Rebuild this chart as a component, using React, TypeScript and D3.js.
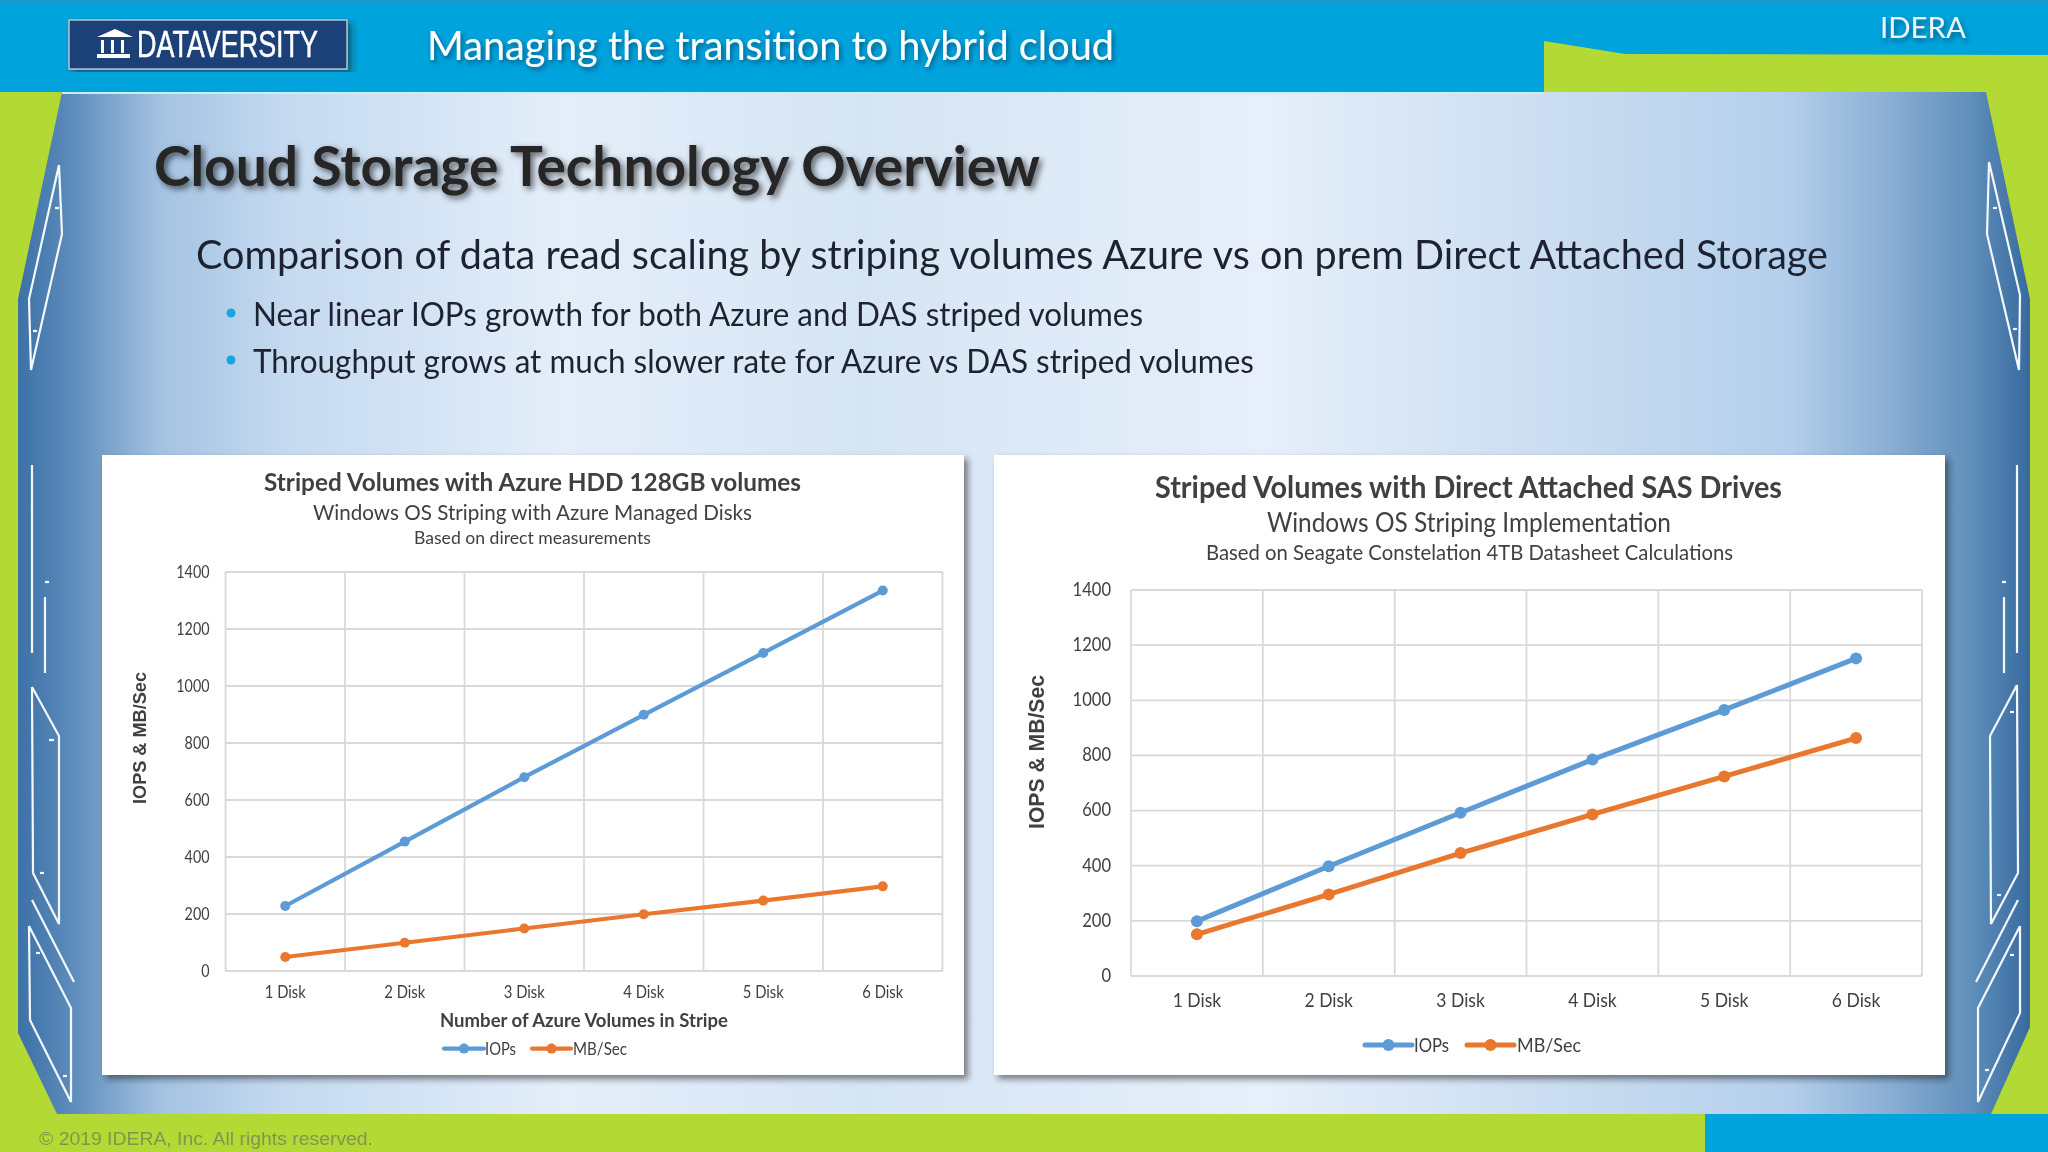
import * as d3 from "d3";

const disks = ["1 Disk", "2 Disk", "3 Disk", "4 Disk", "5 Disk", "6 Disk"];
const yTicks = [0, 200, 400, 600, 800, 1000, 1200, 1400];
const azureIops = [228, 454, 680, 899, 1116, 1335];
const azureMbSec = [49, 99, 149, 199, 247, 297];
const dasIops = [199, 398, 592, 785, 965, 1152];
const dasMbSec = [151, 296, 446, 586, 724, 863];

const BLUE = "#5b9bd5";
const ORANGE = "#e9772d";
const GREEN = "#b3d936";
const HEADER = "#00a3dc";
const CALIBRI = "Lato, Carlito, sans-serif";

type Pt = [number, number];
type Txt = { s: string; x: number; len: number; y: number; size: number; bold?: boolean };

const shapeLine = d3.line<Pt>();

const outlines: Pt[][] = [
  [[59, 165], [62, 234], [31, 370], [29, 299], [59, 165]],
  [[32, 465], [32, 653]],
  [[45, 597], [45, 673]],
  [[32, 687], [59, 736], [59, 924], [33, 873], [32, 687]],
  [[32, 900], [74, 982]],
  [[29, 926], [71, 1008], [71, 1102], [30, 1020], [29, 926]],
  [[1989, 162], [2020, 295], [2019, 370], [1987, 234], [1989, 162]],
  [[2017, 465], [2017, 653]],
  [[2004, 597], [2004, 673]],
  [[2017, 685], [2018, 873], [1991, 924], [1990, 736], [2017, 685]],
  [[2018, 900], [1976, 982]],
  [[2020, 926], [2020, 1013], [1978, 1102], [1978, 1008], [2020, 926]],
];
const dashes: Pt[][] = [
  [[55, 208], [59, 208]], [[33, 331], [37, 331]], [[45, 582], [49, 582]],
  [[49, 740], [54, 740]], [[40, 873], [44, 873]], [[36, 953], [40, 953]], [[63, 1076], [67, 1076]],
  [[1993, 208], [1997, 208]], [[2013, 329], [2017, 329]], [[2002, 582], [2006, 582]],
  [[2010, 712], [2014, 712]], [[1997, 895], [2001, 895]], [[2010, 955], [2014, 955]], [[1985, 1070], [1989, 1070]],
];

type ChartProps = {
  iops: number[];
  mbSec: number[];
  panel: { x0: number; x1: number; y0: number; y1: number };
  plot: { x0: number; x1: number; y0: number; y1: number };
  titles: Txt[];
  xTitle?: Txt;
  yTitle: { x: number; cy: number; len: number; size: number };
  tickRight: number;
  tickSize: number;
  tickChar: number;
  tickDy: number;
  xLabelY: number;
  xLabelLen: number;
  lineW: number;
  r: number;
  legendY: number;
  legendSize: number;
  legend: { name: string; color: string; x0: number; x1: number; tx: number; len: number }[];
};

function StripeChart(p: ChartProps) {
  const x = d3.scaleBand<string>().domain(disks).range([p.plot.x0, p.plot.x1]);
  const y = d3.scaleLinear().domain([0, 1400]).range([p.plot.y1, p.plot.y0]);
  const cx = (d: string) => (x(d) ?? 0) + x.bandwidth() / 2;
  const line = d3
    .line<number>()
    .x((_, i) => cx(disks[i]))
    .y((v) => y(v));
  const series = [
    { color: ORANGE, values: p.mbSec },
    { color: BLUE, values: p.iops },
  ];
  return (
    <g>
      <rect
        x={p.panel.x0}
        y={p.panel.y0}
        width={p.panel.x1 - p.panel.x0}
        height={p.panel.y1 - p.panel.y0}
        fill="#fff"
        filter="url(#panelShadow)"
      />
      {p.titles.map((t) => (
        <text
          key={t.s}
          x={t.x}
          y={t.y}
          fontSize={t.size}
          fontWeight={t.bold ? 700 : 400}
          fill="#404040"
          fontFamily={CALIBRI}
          textLength={t.len}
          lengthAdjust="spacingAndGlyphs"
        >
          {t.s}
        </text>
      ))}
      {yTicks.map((t) => (
        <g key={t}>
          <line x1={p.plot.x0} x2={p.plot.x1} y1={y(t)} y2={y(t)} stroke="#d9d9d9" strokeWidth={1.8} />
          <text
            x={p.tickRight - String(t).length * p.tickChar}
            y={y(t) + p.tickSize * 0.36 + p.tickDy}
            fontSize={p.tickSize}
            fill="#404040"
            fontFamily={CALIBRI}
            textLength={String(t).length * p.tickChar}
            lengthAdjust="spacingAndGlyphs"
          >
            {t}
          </text>
        </g>
      ))}
      {[...disks.map((d) => x(d) ?? 0), p.plot.x1].map((gx) => (
        <line key={gx} x1={gx} x2={gx} y1={p.plot.y0} y2={p.plot.y1} stroke="#d9d9d9" strokeWidth={1.8} />
      ))}
      {disks.map((d) => (
        <text
          key={d}
          x={cx(d) - p.xLabelLen / 2}
          y={p.xLabelY}
          fontSize={p.tickSize}
          fill="#404040"
          fontFamily={CALIBRI}
          textLength={p.xLabelLen}
          lengthAdjust="spacingAndGlyphs"
        >
          {d}
        </text>
      ))}
      {series.map((s) => (
        <g key={s.color}>
          <path d={line(s.values) ?? ""} fill="none" stroke={s.color} strokeWidth={p.lineW} strokeLinecap="round" />
          {s.values.map((v, i) => (
            <circle key={i} cx={cx(disks[i])} cy={y(v)} r={p.r} fill={s.color} />
          ))}
        </g>
      ))}
      <text
        transform={`translate(${p.yTitle.x},${p.yTitle.cy}) rotate(-90)`}
        x={-p.yTitle.len / 2}
        fontSize={p.yTitle.size}
        fontWeight={700}
        fill="#404040"
        fontFamily="'Liberation Sans', sans-serif"
        textLength={p.yTitle.len}
        lengthAdjust="spacingAndGlyphs"
      >
        IOPS &amp; MB/Sec
      </text>
      {p.xTitle && (
        <text
          x={p.xTitle.x}
          y={p.xTitle.y}
          fontSize={p.xTitle.size}
          fontWeight={700}
          fill="#404040"
          fontFamily={CALIBRI}
          textLength={p.xTitle.len}
          lengthAdjust="spacingAndGlyphs"
        >
          {p.xTitle.s}
        </text>
      )}
      {p.legend.map((l) => (
        <g key={l.name}>
          <line x1={l.x0} x2={l.x1} y1={p.legendY} y2={p.legendY} stroke={l.color} strokeWidth={p.lineW} strokeLinecap="round" />
          <circle cx={(l.x0 + l.x1) / 2} cy={p.legendY} r={p.r} fill={l.color} />
          <text
            x={l.tx}
            y={p.legendY + p.legendSize * 0.36}
            fontSize={p.legendSize}
            fill="#404040"
            fontFamily={CALIBRI}
            textLength={l.len}
            lengthAdjust="spacingAndGlyphs"
          >
            {l.name}
          </text>
        </g>
      ))}
    </g>
  );
}

export default function App() {
  return (
    <svg
      width={2048}
      height={1152}
      viewBox="0 0 2048 1152"
      style={{ position: "fixed", left: 0, top: 0, display: "block" }}
    >
      <defs>
        <linearGradient id="body" x1="18" x2="2030" y1="0" y2="0" gradientUnits="userSpaceOnUse">
          <stop offset="0" stopColor="#3d70a6" />
          <stop offset="0.025" stopColor="#5a8aba" />
          <stop offset="0.07" stopColor="#a3c2e2" />
          <stop offset="0.13" stopColor="#c4d9f0" />
          <stop offset="0.27" stopColor="#e4eef9" />
          <stop offset="0.42" stopColor="#d6e5f4" />
          <stop offset="0.62" stopColor="#e6effa" />
          <stop offset="0.78" stopColor="#c8dbf0" />
          <stop offset="0.88" stopColor="#b4cfec" />
          <stop offset="0.93" stopColor="#8aaed4" />
          <stop offset="0.97" stopColor="#6090bb" />
          <stop offset="1" stopColor="#376a9f" />
        </linearGradient>
        <filter id="panelShadow" x="-5%" y="-5%" width="110%" height="110%">
          <feDropShadow dx="4" dy="4" stdDeviation="3" floodColor="#222" floodOpacity="0.55" />
        </filter>
        <filter id="titleShadow" x="-5%" y="-20%" width="110%" height="150%">
          <feDropShadow dx="3" dy="3" stdDeviation="3" floodColor="#000" floodOpacity="0.6" />
        </filter>
        <filter id="headShadow" x="-5%" y="-20%" width="110%" height="150%">
          <feDropShadow dx="2" dy="3" stdDeviation="2.5" floodColor="#003a60" floodOpacity="0.7" />
        </filter>
        <filter id="soft" x="0" y="0" width="100%" height="100%">
          <feGaussianBlur stdDeviation="0.45" />
        </filter>
      </defs>

      <g filter="url(#soft)">
        <rect width={2048} height={1152} fill={GREEN} />
        <path
          d={shapeLine([[62, 92], [18, 299], [18, 1033], [57, 1114], [1991, 1114], [2030, 1027], [2030, 299], [1986, 92]]) + "Z"}
          fill="url(#body)"
        />

        <path d={shapeLine([[0, 0], [2048, 0], [2048, 55], [1625, 54], [1544, 41], [1544, 92], [0, 92]]) + "Z"} fill={HEADER} />
        <rect width={2048} height={3} fill="#169cc9" />
        <rect x={62} y={92} width={1482} height={2} fill="#c8f0fa" />
        <rect x={1705} y={1114} width={343} height={38} fill={HEADER} />

        {outlines.map((o, i) => (
          <path key={i} d={shapeLine(o) ?? ""} fill="none" stroke="#f4f8fb" strokeWidth={2.2} />
        ))}
        {dashes.map((o, i) => (
          <path key={i} d={shapeLine(o) ?? ""} fill="none" stroke="#f4f8fb" strokeWidth={2.2} />
        ))}

        <rect x={69} y={20} width={278} height={49} fill="#1e3f78" stroke="#b5c3d6" strokeWidth={1.5} filter="url(#panelShadow)" />
        <g fill="#fff">
          <path d="M97 37 L115 29 L133 37 Z" />
          <rect x={101} y={40} width={3} height={13} />
          <rect x={111} y={40} width={3} height={13} />
          <rect x={121} y={40} width={3} height={13} />
          <rect x={97} y={54} width={33} height={4} />
        </g>
        <text x={137} y={57} fontSize={36} fill="#fff" stroke="#fff" strokeWidth={0.5} fontFamily="'Liberation Sans', sans-serif" textLength={181} lengthAdjust="spacingAndGlyphs">
          DATAVERSITY
        </text>

        <text x={427} y={60} fontSize={41} fill="#fff" fontFamily={CALIBRI} textLength={687} lengthAdjust="spacingAndGlyphs" filter="url(#headShadow)">
          Managing the transition to hybrid cloud
        </text>
        <text x={1880} y={38} fontSize={29} fill="#e8f4fa" fontFamily={CALIBRI} textLength={86} lengthAdjust="spacingAndGlyphs" filter="url(#headShadow)">
          IDERA
        </text>

        <text x={154} y={186} fontSize={56} fontWeight={700} fill="#262626" fontFamily={CALIBRI} textLength={886} lengthAdjust="spacingAndGlyphs" filter="url(#titleShadow)">
          Cloud Storage Technology Overview
        </text>
        <text x={196} y={269} fontSize={41} fill="#1f2430" fontFamily={CALIBRI} textLength={1632} lengthAdjust="spacingAndGlyphs">
          Comparison of data read scaling by striping volumes Azure vs on prem Direct Attached Storage
        </text>
        <circle cx={231} cy={313} r={4.5} fill="#14a7e0" />
        <text x={253} y={326} fontSize={33} fill="#1f2430" fontFamily={CALIBRI} textLength={890} lengthAdjust="spacingAndGlyphs">
          Near linear IOPs growth for both Azure and DAS striped volumes
        </text>
        <circle cx={231} cy={360} r={4.5} fill="#14a7e0" />
        <text x={253} y={373} fontSize={33} fill="#1f2430" fontFamily={CALIBRI} textLength={1001} lengthAdjust="spacingAndGlyphs">
          Throughput grows at much slower rate for Azure vs DAS striped volumes
        </text>

        <StripeChart
          iops={azureIops}
          mbSec={azureMbSec}
          panel={{ x0: 102, x1: 964, y0: 455, y1: 1075 }}
          plot={{ x0: 225.5, x1: 942.5, y0: 572, y1: 971 }}
          titles={[
            { s: "Striped Volumes with Azure HDD 128GB volumes", x: 264, len: 537, y: 490.5, size: 24, bold: true },
            { s: "Windows OS Striping with Azure Managed Disks", x: 313, len: 439, y: 519.5, size: 22 },
            { s: "Based on direct measurements", x: 414, len: 237, y: 543.5, size: 17.5 },
          ]}
          xTitle={{ s: "Number of Azure Volumes in Stripe", x: 440, len: 288, y: 1027, size: 19.5, bold: true }}
          yTitle={{ x: 146, cy: 738, len: 132, size: 19 }}
          tickRight={209.5}
          tickSize={16.5}
          tickChar={8.3}
          tickDy={0}
          xLabelY={997.5}
          xLabelLen={41}
          lineW={4.2}
          r={5}
          legendY={1048.6}
          legendSize={16.5}
          legend={[
            { name: "IOPs", color: BLUE, x0: 444, x1: 484, tx: 485, len: 31 },
            { name: "MB/Sec", color: ORANGE, x0: 532, x1: 571, tx: 573, len: 54 },
          ]}
        />
        <StripeChart
          iops={dasIops}
          mbSec={dasMbSec}
          panel={{ x0: 994, x1: 1945, y0: 455, y1: 1075 }}
          plot={{ x0: 1131, x1: 1922, y0: 590, y1: 976 }}
          titles={[
            { s: "Striped Volumes with Direct Attached SAS Drives", x: 1155, len: 627, y: 498, size: 29.5, bold: true },
            { s: "Windows OS Striping Implementation", x: 1267, len: 404, y: 532, size: 26 },
            { s: "Based on Seagate Constelation 4TB Datasheet Calculations", x: 1206, len: 527, y: 560, size: 20.5 },
          ]}
          yTitle={{ x: 1043.5, cy: 752, len: 154, size: 22 }}
          tickRight={1111}
          tickSize={19}
          tickChar={9.6}
          tickDy={-1}
          xLabelY={1006.5}
          xLabelLen={48.5}
          lineW={5}
          r={6}
          legendY={1045}
          legendSize={19}
          legend={[
            { name: "IOPs", color: BLUE, x0: 1365, x1: 1412, tx: 1414, len: 35 },
            { name: "MB/Sec", color: ORANGE, x0: 1467, x1: 1514, tx: 1517, len: 64 },
          ]}
        />

        <text x={39} y={1145} fontSize={19} fill="#85944e" fontFamily="'Liberation Sans', sans-serif" textLength={334} lengthAdjust="spacingAndGlyphs">
          © 2019 IDERA, Inc. All rights reserved.
        </text>
      </g>
    </svg>
  );
}
